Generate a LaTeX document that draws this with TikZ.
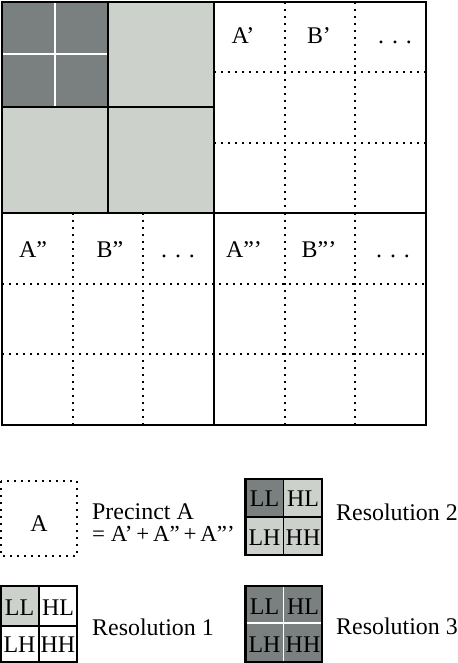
\documentclass[tikz,border=0pt]{standalone}
\usepackage{fontspec}
\setmainfont{Liberation Serif}
\definecolor{dk}{HTML}{7A8080}
\definecolor{lt}{HTML}{CDD1CB}
\begin{document}
\begin{tikzpicture}[x=1bp,y=-1bp,
  lbl/.style={font=\fontsize{24}{26}\selectfont, inner sep=0pt, anchor=base},
  dotl/.style={line width=1.8bp, dash pattern=on 1.8bp off 5.2bp},
  solid line/.style={line width=1.5bp},
  frame/.style={line width=2.2bp},
  wline/.style={white, line width=1.5bp}]
\useasboundingbox (0,0) rectangle (458,663);
% top-left quadrant
\fill[lt] (2,2) rectangle (214,213);
\fill[dk] (2,2) rectangle (108,107);
\draw[wline] (55,2) -- (55,107);
\draw[wline] (2,54) -- (108,54);
\draw[solid line] (108,2) -- (108,213);
\draw[solid line] (2,107) -- (214,107);
% dotted grid
\foreach \x in {284.7,355.3} \draw[dotl] (\x,2) -- (\x,213);
\foreach \y in {72.3,142.7} \draw[dotl] (214,\y) -- (426,\y);
\foreach \x in {72.7,143.3,284.7,355.3} \draw[dotl] (\x,213) -- (\x,425);
\foreach \y in {283.7,354.3} \draw[dotl] (2,\y) -- (426,\y);
% solid main lines
\draw[solid line] (214,2) -- (214,425);
\draw[solid line] (2,213) -- (426,213);
\draw[frame] (2,2) rectangle (426,425);
% labels in grid
\node[lbl] (a1) at (243,44) {A’};
\node[lbl] (b1) at (319,44) {B’};
\node[lbl] (d1) at (395,44) {.\,\,.\,\,.};
\node[lbl] (a2) at (33,257) {A”};
\node[lbl] (b2) at (110,257) {B”};
\node[lbl] (d2) at (178,257) {.\,\,.\,\,.};
\node[lbl] (a3) at (244,257) {A”’};
\node[lbl] (b3) at (319,257) {B”’};
\node[lbl] (d3) at (393,257) {.\,\,.\,\,.};
% legend: precinct
\draw[dotl] (1,481) rectangle (77,556);
\node[lbl] (pa) at (39,531) {A};
\node[lbl, anchor=base west] (prec) at (92,519) {Precinct A};
\node[lbl, anchor=base west, font=\fontsize{23}{25}\selectfont] (sum) at (92,541) {= A’\,+\,A”\,+\,A”’};
% resolution 1
\fill[white] (1,586) rectangle (77,662);
\fill[lt] (1,586) rectangle (39,626);
\draw[solid line] (39,586) -- (39,662);
\draw[solid line] (1,626) -- (77,626);
\draw[frame] (1,586) rectangle (77,662);
\node[lbl] (r1ll) at (19.5,615) {LL};
\node[lbl] (r1hl) at (58,615) {HL};
\node[lbl] (r1lh) at (19.5,652) {LH};
\node[lbl] (r1hh) at (58,652) {HH};
\node[lbl, anchor=base west] (r1) at (92,635) {Resolution 1};
% resolution 2
\fill[lt] (245.5,479) rectangle (322,555);
\fill[dk] (245.5,479) rectangle (283.7,517);
\draw[solid line] (283.7,479) -- (283.7,555);
\draw[solid line] (245.5,517) -- (322,517);
\draw[frame] (245.5,479) rectangle (322,555);
\node[lbl] (r2ll) at (264.5,506) {LL};
\node[lbl] (r2hl) at (303,506) {HL};
\node[lbl] (r2lh) at (264.5,545) {LH};
\node[lbl] (r2hh) at (303,545) {HH};
\node[lbl, anchor=base west] (r2) at (336,520) {Resolution 2};
% resolution 3
\fill[dk] (245.5,586) rectangle (322,662);
\draw[wline] (283.3,586) -- (283.3,662);
\draw[wline] (245.5,623) -- (322,623);
\draw[frame] (245.5,586) rectangle (322,662);
\node[lbl] (r3ll) at (264.5,614) {LL};
\node[lbl] (r3hl) at (303,614) {HL};
\node[lbl] (r3lh) at (264.5,652) {LH};
\node[lbl] (r3hh) at (303,652) {HH};
\node[lbl, anchor=base west] (r3) at (336,634) {Resolution 3};
\end{tikzpicture}
\end{document}
